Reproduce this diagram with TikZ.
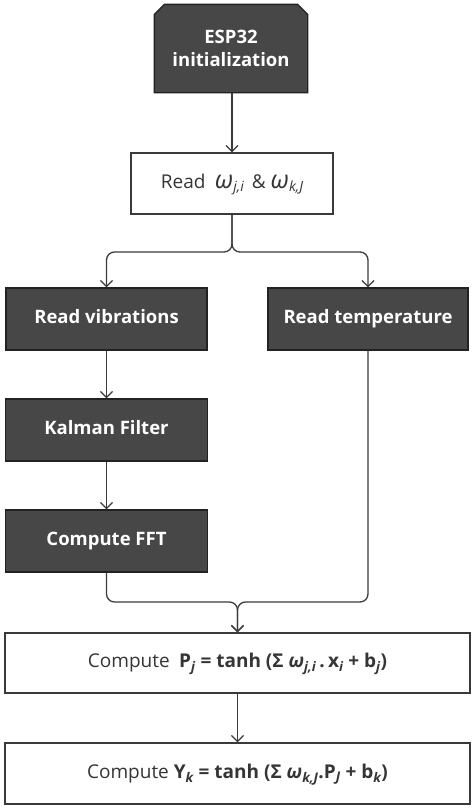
\documentclass[tikz,border=0pt]{standalone}
\usepackage{fontspec}
\setmainfont{Open Sans}
\usetikzlibrary{arrows.meta,backgrounds}
\definecolor{darkfill}{HTML}{474747}
\definecolor{edgedark}{HTML}{222222}
\definecolor{linegray}{HTML}{3a3a3a}
\definecolor{textgray}{HTML}{353535}
\newcommand{\sub}[1]{\textsubscript{\itshape #1}}
\newcommand{\bigom}[1]{{\itshape\fontsize{25}{23}\selectfont ω\raisebox{-3pt}{\fontsize{14}{16}\selectfont #1}}}
\begin{document}
\begin{tikzpicture}[x=1pt,y=-1pt,
  darkbase/.style={draw=edgedark, line width=1.3pt, fill=darkfill, text=white,
    font=\bfseries\fontsize{18.5}{23}\selectfont, inner sep=0pt, align=center},
  darkbox/.style={darkbase, text height=13pt, text depth=4pt},
  whitebox/.style={draw=linegray, line width=1.3pt, fill=white, text=textgray,
    font=\fontsize{19}{23}\selectfont, inner sep=0pt, align=center,
    text height=14pt, text depth=5pt},
  conn/.style={draw=linegray, line width=1.3pt, rounded corners=8pt},
  arr/.style={conn, -{Straight Barb[length=6pt,width=12pt,line width=1.3pt]}}]
\useasboundingbox (0,0) rectangle (474,811);

\node (esp) [darkbase, draw=none, fill=none, minimum width=152pt, minimum height=87pt] at (231,48.5) {ESP32\\initialization};
\begin{pgfonlayer}{background}
\filldraw[fill=darkfill, draw=edgedark, line width=1.3pt]
  (esp.south west) -- ([yshift=-10pt]esp.north west) -- ([xshift=10pt]esp.north west)
  -- ([xshift=-10pt]esp.north east) -- ([yshift=-10pt]esp.north east) -- (esp.south east) -- cycle;
\end{pgfonlayer}

\node (read) [whitebox, minimum width=202pt, minimum height=61pt] at (232,183.5)
  {Read\enspace \bigom{j,i}\, \& \bigom{k,J}};
\node (vib) [darkbox, minimum width=201pt, minimum height=62pt] at (106.5,319) {Read vibrations};
\node (temp) [darkbox, minimum width=200pt, minimum height=62pt] at (368,319) {Read temperature};
\node (kal) [darkbox, minimum width=202pt, minimum height=62pt] at (106.5,430) {Kalman Filter};
\node (fft) [darkbox, minimum width=202pt, minimum height=62pt] at (106.5,541) {Compute FFT};
\node (pj) [whitebox, minimum width=465pt, minimum height=60pt] at (237.5,663)
  {Compute\enspace\textbf{P\sub{j} = tanh (Σ {\itshape ω}\sub{j,i}\,.\,x\sub{i} + b\sub{j})}};
\node (yk) [whitebox, minimum width=465pt, minimum height=61pt] at (237.5,773.5)
  {Compute \textbf{Y\sub{k} = tanh (Σ {\itshape ω}\sub{k,J}.P\sub{J} + b\sub{k})}};

\coordinate (split) at (232,252);
\coordinate (merge) at (237.5,602);

\draw[arr] (esp.south -| read.north) -- (read.north);
\draw[arr] (read.south) -- (split) -| (vib.north);
\draw[arr] (read.south) -- (split) -| (temp.north);
\draw[arr] (vib.south) -- (kal.north);
\draw[arr] (kal.south) -- (fft.north);
\draw[arr] (fft.south) |- (merge) -- (pj.north);
\draw[arr] (temp.south) |- (merge) -- (pj.north);
\draw[arr] (pj.south) -- (yk.north);
\end{tikzpicture}
\end{document}
